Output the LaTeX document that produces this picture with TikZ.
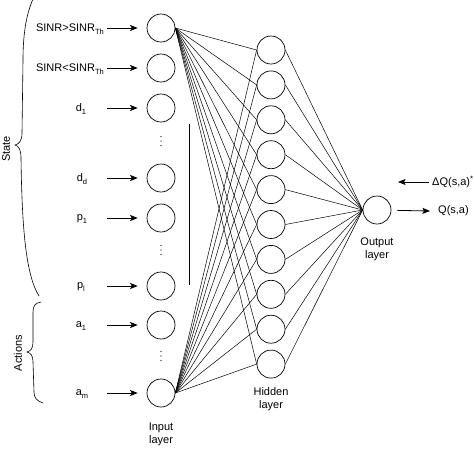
\documentclass[tikz,border=0pt]{standalone}
\usepackage{fontspec}
\setmainfont{Liberation Sans}
\usetikzlibrary{arrows.meta,calc}
\newcommand{\lsub}[1]{\raisebox{-0.4ex}{\fontsize{7.5}{8}\selectfont #1}}
\begin{document}
\begin{tikzpicture}[x=1pt,y=-1pt,
  neuron/.style={circle,draw,line width=0.7pt,minimum size=28pt,inner sep=0pt},
  lbl/.style={font=\fontsize{11}{13}\selectfont,inner sep=0pt},
  arr/.style={-{Stealth[length=7.5pt,width=6pt,inset=1.5pt]},line width=0.8pt},
  conn/.style={line width=0.5pt},
  brace/.style={line width=0.6pt,line cap=round},
  vdot/.style={circle,fill,inner sep=0pt,minimum size=1.4pt}]
\useasboundingbox (0,0) rectangle (474,448);
% input layer
\foreach \n/\y in {1/28,2/68,3/108,4/178,5/218,6/286,7/325,8/393}
  \node[neuron] (in\n) at (161,\y) {};
\foreach \k/\y in {1/141,2/250,3/356}{
  \node[vdot] (dt\k a) at (161,\y-4.5) {};
  \node[vdot] (dt\k b) at (161,\y) {};
  \node[vdot] (dt\k c) at (161,\y+4.5) {};
}
% hidden layer
\foreach \j in {0,...,9}
  \node[neuron] (h\j) at (271,{50+\j*34.9}) {};
% output
\node[neuron] (out) at (377,210) {};
% labels of inputs
\node[lbl,anchor=east] (l1) at (104,29) {SINR>SINR\lsub{Th}};
\node[lbl,anchor=east] (l2) at (104,69) {SINR<SINR\lsub{Th}};
\node[lbl] (l3) at (81,109) {d\lsub{1}};
\node[lbl] (l4) at (82,179) {d\lsub{d}};
\node[lbl] (l5) at (82,219) {p\lsub{1}};
\node[lbl] (l6) at (81,287) {p\lsub{l}};
\node[lbl] (l7) at (81,326) {a\lsub{1}};
\node[lbl] (l8) at (82,394) {a\lsub{m}};
\foreach \n/\y in {1/28,2/68,3/108,4/178,5/218,6/286,7/325,8/393}{
  \coordinate (s\n) at (107,\y);
  \draw[arr,shorten >=9pt] (s\n) -- (in\n);
}
% vertical line
\coordinate (v1) at (189,124);
\coordinate (v2) at (189,285);
\draw[line width=0.6pt] (v1) -- (v2);
% connections
\foreach \j in {0,...,9}{
  \draw[conn] (in1.east) -- (h\j.west);
  \draw[conn] (in8.east) -- (h\j.west);
  \draw[conn] (h\j.east) -- (out.west);
}
% output arrows
\node[lbl,anchor=west] (dq) at (432,182) {ΔQ(s,a)\textsuperscript{*}};
\node[lbl,anchor=west] (q) at (438,211) {Q(s,a)};
\draw[arr] (dq.west) ++(-3,0) coordinate (dqs) (dqs) -- ++(-31,0) coordinate (dqe);
\draw[arr,shorten <=6pt] (out) -- ($(q.west)+(-8,0)$) coordinate (qe);
% layer labels
\node[lbl,align=center] (il) at (161,434) {Input\\layer};
\node[lbl,align=center] (hl) at (271,399) {Hidden\\layer};
\node[lbl,align=center] (ol) at (377,249) {Output\\layer};
% braces
\draw[brace] (33,-1) .. controls (26,15) and (23,35) .. (23,60) -- (22,133)
  .. controls (22,141) and (19,144) .. (15,145)
  .. controls (19,146) and (21,150) .. (21,158)
  .. controls (22,230) and (26,275) .. (39,296);
\node[lbl,rotate=90] (st) at (6,149) {State};
\draw[brace] (41,302) .. controls (35,303) and (33,306) .. (33,312) -- (33,342)
  .. controls (33,348) and (31,351) .. (27,352)
  .. controls (31,353) and (33,356) .. (33,362) -- (34,392)
  .. controls (34,398) and (37,401) .. (43,403);
\node[lbl,rotate=90] (ac) at (18,353) {Actions};
\end{tikzpicture}
\end{document}
